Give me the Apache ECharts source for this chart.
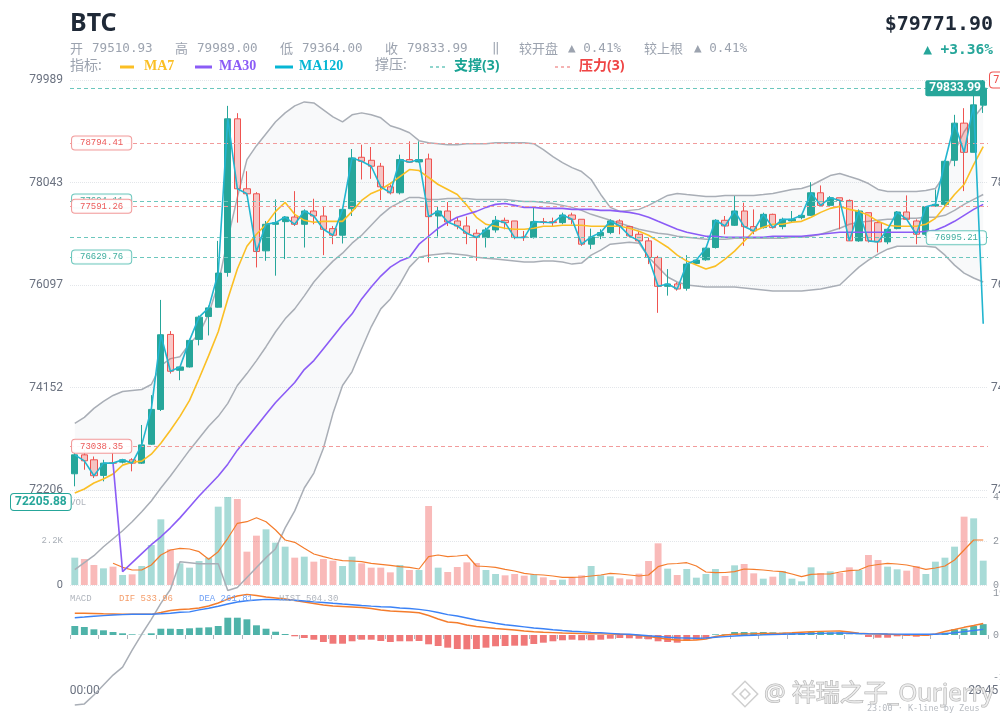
<!DOCTYPE html>
<html><head><meta charset="utf-8">
<script src="https://cdn.jsdelivr.net/npm/echarts@6/dist/echarts.min.js"></script>
<style>html,body{margin:0;padding:0;background:#fff}#c{width:1000px;height:720px}</style>
</head><body><div id="c"></div>
<script>
const categories = [
"00:00","00:15","00:30","00:45","01:00","01:15","01:30","01:45",
"02:00","02:15","02:30","02:45","03:00","03:15","03:30","03:45",
"04:00","04:15","04:30","04:45","05:00","05:15","05:30","05:45",
"06:00","06:15","06:30","06:45","07:00","07:15","07:30","07:45",
"08:00","08:15","08:30","08:45","09:00","09:15","09:30","09:45",
"10:00","10:15","10:30","10:45","11:00","11:15","11:30","11:45",
"12:00","12:15","12:30","12:45","13:00","13:15","13:30","13:45",
"14:00","14:15","14:30","14:45","15:00","15:15","15:30","15:45",
"16:00","16:15","16:30","16:45","17:00","17:15","17:30","17:45",
"18:00","18:15","18:30","18:45","19:00","19:15","19:30","19:45",
"20:00","20:15","20:30","20:45","21:00","21:15","21:30","21:45",
"22:00","22:15","22:30","22:45","23:00","23:15","23:30","23:45"];

// [open, close, low, high]
const candles = [
[72514,72873,72276,72937],[72873,72760,72590,72968],[72779,72477,72433,72842],[72483,72716,72370,72779],[72722,72716,72700,72968],
[72735,72779,72710,72798],[72779,72716,72560,72810],[72716,73062,72700,73440],[73075,73736,73062,74007],[73736,75153,73705,75814],
[75159,74460,74416,75222],[74479,74542,74290,74542],[74542,75046,74530,75078],[75065,75487,74951,75518],[75499,75663,75140,75707],
[75676,76324,75670,76935],[76337,79252,76255,79498],[79252,77924,77281,79359],[77924,77829,77790,78257],[77829,76733,76431,77860],
[76746,77250,76557,77313],[77250,77281,76274,77722],[77300,77388,76589,77407],[77388,77250,77218,77879],[77250,77502,76809,77534],
[77502,77407,77250,77735],[77407,77155,76664,77584],[77168,77042,76872,77218],[77042,77533,76885,77565],[77546,78509,77407,78679],
[78522,78446,78100,78761],[78465,78352,78113,78717],[78352,77961,77710,78415],[77961,77848,77817,78006],[77848,78478,77817,78572],
[78478,78428,78415,78824],[78434,78478,78420,78824],[78490,77395,76526,78591],[77407,77502,77017,77596],[77502,77294,77218,77672],
[77313,77218,77155,77376],[77218,77080,76872,77395],[77080,76998,76557,77155],[76998,77143,76809,77187],[77143,77325,77092,77407],
[77325,77281,77155,77376],[77313,76998,76966,77313],[77011,76998,76935,77124],[76998,77300,76979,77565],[77300,77290,77250,77370],
[77300,77281,77218,77376],[77281,77426,77250,77470],[77426,77345,77250,77470],[77345,76872,76840,77345],[76872,77011,76778,77168],
[77030,77093,76967,77155],[77093,77313,77061,77345],[77313,77219,77061,77345],[77206,77030,76998,77219],[77061,76935,76904,77124],
[76935,76620,76494,76998],[76620,76072,75569,76652],[76072,76117,75896,76400],[76117,76022,75990,76148],[76035,76494,75990,76664],
[76507,76570,76494,76589],[76576,76797,76557,76809],[76809,77326,76790,77345],[77326,77218,77061,77407],[77231,77502,77218,77785],
[77502,77206,76841,77659],[77206,77124,77061,77533],[77187,77439,77168,77470],[77439,77187,77168,77452],[77206,77344,77155,77376],
[77313,77344,77281,77502],[77376,77420,77344,77439],[77420,77848,77407,78050],[77848,77609,77596,77987],[77609,77754,77596,77785],
[77754,77703,77155,77754],[77703,76935,76935,77722],[76935,77502,76916,77533],[77470,76935,76904,77470],[77281,76916,76715,77313],
[76916,77155,76872,77168],[77168,77483,77155,77502],[77483,77344,77344,77798],[77313,77061,76872,77344],[77061,77584,77030,77596],
[77596,77628,77584,77911],[77628,78446,77584,78465],[78465,79170,78352,79328],[79170,78616,77880,79454],[78616,79517,78616,79706],
[79510.93,79833.99,79364,79989]];

const ma7 = [
72149,72225,72338,72414,72508,72678,72735,72754,72886,73094,
73340,73604,73906,74322,74756,75210,75833,76400,76834,77061,
77250,77495,77665,77439,77325,77288,77306,77306,77306,77495,
77703,77835,77911,78024,78156,78289,78270,78138,78005,77911,
77816,77609,77382,77250,77212,77174,77155,77155,77174,77212,
77212,77231,77231,77231,77212,77212,77212,77212,77174,77118,
77042,76929,76815,76664,76551,76475,76400,76456,76589,76740,
76929,77118,77193,77250,77250,77288,77306,77382,77476,77552,
77590,77533,77495,77420,77306,77231,77212,77212,77212,77250,
77363,77590,77816,78005,78383,78723];

const ma30 = [
null,null,null,null,72716,70657,70827,70997,71167,71318,
71488,71677,71885,72093,72282,72471,72697,72962,73188,73415,
73642,73868,74057,74246,74492,74662,74888,75115,75342,75550,
75833,76060,76267,76437,76551,76626,76872,77023,77174,77288,
77382,77439,77495,77571,77628,77646,77609,77571,77571,77552,
77552,77552,77533,77533,77533,77514,77514,77495,77476,77439,
77382,77306,77231,77155,77099,77061,77023,77023,77004,77004,
77004,77004,77004,77023,77023,77023,77023,77042,77061,77080,
77099,77099,77099,77099,77099,77099,77099,77099,77099,77117,
77136,77212,77306,77420,77533,77628];

const ma120 = [
72873,72760,72477,72716,72716,72779,72716,73062,73736,75153,
74460,74542,75046,75487,75663,76324,79252,77924,77829,76733,
77250,77281,77388,77250,77502,77407,77155,77042,77533,78509,
78446,78352,77961,77848,78478,78428,78478,77395,77502,77294,
77218,77080,76998,77143,77325,77281,76998,76998,77300,77290,
77281,77426,77345,76872,77011,77093,77313,77219,77030,76935,
76620,76072,76117,76022,76494,76570,76797,77326,77218,77502,
77206,77124,77439,77187,77344,77344,77420,77848,77609,77754,
77703,76935,77502,76935,76916,77155,77483,77344,77061,77584,
77628,78446,79170,78616,79517,75361];

const bollUpper = [
73472,73585,73755,73887,74001,74076,74095,74114,74208,74567,
74700,74737,74983,75172,75550,76116,76966,77760,78478,78742,
78969,79195,79365,79498,79573,79554,79422,79290,79195,79328,
79365,79328,79271,79120,79063,78988,78837,78799,78780,78761,
78761,78780,78780,78780,78799,78799,78799,78799,78780,78666,
78534,78421,78326,78251,78100,77816,77571,77495,77514,77533,
77609,77703,77798,77835,77816,77798,77779,77779,77798,77798,
77798,77798,77816,77835,77873,77911,77930,77986,78081,78175,
78213,78156,78100,78024,77911,77873,77873,77873,77873,77892,
77930,78194,78629,79007,79271,79500];

const bollMid = [
70695,70827,70959,71129,71281,71432,71602,71791,71998,72244,
72471,72716,72962,73188,73415,73604,73850,74190,74416,74662,
74926,75210,75455,75644,75890,76154,76362,76551,76702,76891,
77042,77231,77420,77571,77665,77760,77760,77722,77722,77741,
77741,77741,77722,77722,77722,77722,77703,77684,77684,77665,
77646,77609,77571,77514,77439,77382,77325,77269,77212,77155,
77118,77080,77061,77023,77004,76985,76966,76966,76966,76985,
76985,76985,76985,76985,76985,77004,77004,77023,77061,77118,
77174,77250,77288,77306,77325,77344,77344,77363,77363,77382,
77382,77420,77514,77628,77722,77816];

const bollLower = [
68126,68145,68315,68504,68693,68844,69165,69467,69750,70053,
70317,70846,70827,70808,70808,70808,70298,70355,70544,70733,
70922,71092,71488,71809,72244,72527,72999,73661,74190,74454,
74888,75304,75644,75833,76116,76437,76626,76664,76683,76702,
76683,76664,76626,76607,76589,76570,76551,76532,76532,76551,
76551,76532,76494,76513,76664,76759,76872,76891,76910,76891,
76626,76437,76249,76154,76097,76079,76060,76060,76060,76060,
76041,76022,76003,75984,75984,75984,75984,76003,76022,76060,
76097,76267,76437,76570,76683,76777,76834,76834,76834,76834,
76815,76664,76475,76324,76230,76154];

const volumes = [
1367,1300,1000,833,917,500,533,950,2000,3283,
1783,1083,867,1200,1367,3917,4400,4300,1667,2467,
2783,2117,1917,1367,1417,1167,1300,1217,950,1417,
1083,867,867,633,1000,750,750,3950,867,650,
900,1133,1100,750,550,483,550,467,533,383,
250,267,383,483,950,483,433,333,283,567,
1200,2083,817,500,800,367,550,800,450,983,
1050,583,317,417,700,317,183,883,600,683,
600,883,750,1500,1250,917,783,717,950,550,
1167,1367,1917,3417,3333,1217];

const volMa = [
null,null,null,null,1085,885,750,750,1000,1500,
1750,1835,1800,1665,1285,1665,2335,3085,3165,3365,
3165,2750,2250,2135,1835,1550,1415,1300,1215,1200,
1165,1085,1035,985,915,885,800,1415,1500,1415,
1450,1500,950,925,885,785,700,585,525,500,
450,385,385,400,450,500,585,550,500,450,
500,915,1050,1075,1115,950,650,615,625,665,
800,785,750,700,665,550,415,535,550,550,
650,715,750,950,1025,1085,1050,1000,900,785,
850,950,1250,1750,2250,2250];

const dif = [
1007,1007,998,984,974,960,960,960,960,1044,
1137,1183,1206,1253,1346,1485,1670,1810,1888,1833,
1763,1717,1670,1601,1531,1462,1392,1346,1322,1299,
1276,1230,1160,1114,1090,1067,1035,905,742,603,
571,464,394,348,302,269,232,186,153,130,
111,93,79,65,60,51,42,32,19,-23,
-70,-130,-195,-232,-246,-232,-185,-70,0,32,
51,60,70,74,79,102,130,153,167,181,
186,139,84,60,46,32,19,5,-5,-14,
46,162,255,357,441,533.96];

const dea = [
803,835,868,900,928,947,960,960,960,984,
1012,1053,1076,1169,1244,1336,1438,1531,1587,1624,
1652,1643,1633,1615,1578,1540,1508,1471,1438,1406,
1373,1341,1313,1299,1253,1230,1192,1132,1044,947,
882,789,696,622,543,478,427,376,325,288,
246,209,176,148,121,102,74,46,32,0,
-37,-70,-107,-130,-139,-148,-139,-102,-74,-46,
-23,-9,5,23,32,46,56,65,74,88,
93,84,70,60,51,46,42,32,32,32,
37,60,107,158,209,261.81];

const hist = [
418,371,264,218,139,79,32,14,79,292,
292,278,311,339,357,418,803,803,728,450,
292,153,46,-60,-139,-218,-325,-404,-404,-292,
-218,-218,-278,-325,-292,-292,-278,-432,-510,-589,
-650,-664,-650,-589,-524,-510,-496,-496,-418,-357,
-292,-246,-218,-246,-246,-218,-172,-139,-153,-172,
-200,-292,-325,-357,-278,-218,-139,32,32,139,
139,125,139,125,107,93,93,139,139,125,
125,14,14,-93,-125,-125,-60,-46,-79,-46,
14,107,264,292,418,504.30];

const supportLevels = [77694.11, 76995.21, 76629.76];
const resistanceLevels = [78794.41, 77591.26, 73038.35];
const lastClose = 79833.99;
const priceMin = 72205.88, priceMax = 79989, priceStep = 1945.78;
const volMax = 4400, volStep = 2200;
const macdMax = 1950;

const UP = '#26a69a', DOWN = '#ef5350';
const SUP = '#6cc7bd', RES = '#f29b9b';
const sans = "'Noto Sans','Noto Sans CJK SC',sans-serif";
const robo = "Roboto,'Noto Sans',sans-serif";
const mono = "'DejaVu Sans Mono','Noto Sans CJK SC',monospace";
const cmono = "'Liberation Mono','DejaVu Sans Mono',monospace";
const serif = "'Liberation Serif','DejaVu Serif',serif";

const chart = echarts.init(document.getElementById('c'), null, {renderer:'canvas'});

function T(x, y, text, font, fill, align, extra) {
  return {type:'text', x:x, y:y, silent:true, z:100,
    style: Object.assign({text:text, font:font, fill:fill, align:align||'left', verticalAlign:'middle',
      textAlign:align||'left', textVerticalAlign:'middle'}, extra||{})};
}
function L(x1,y1,x2,y2,color,w,dash){
  return {type:'line', silent:true, z:100, shape:{x1,y1,x2,y2}, style:{stroke:color, lineWidth:w, lineDash:dash||null}};
}

const gray = '#9ca3af';
const graphics = [
  T(70, 24, 'BTC', 'bold 25px ' + sans, '#1f2937'),
  T(993, 25, '$79771.90', 'bold 20px ' + mono, '#1f2937', 'right'),
  T(70, 49, '开', '13px ' + sans, gray), T(92, 49, '79510.93', '12.6px ' + mono, gray),
  T(175, 49, '高', '13px ' + sans, gray), T(197, 49, '79989.00', '12.6px ' + mono, gray),
  T(280, 49, '低', '13px ' + sans, gray), T(302, 49, '79364.00', '12.6px ' + mono, gray),
  T(385, 49, '收', '13px ' + sans, gray), T(407, 49, '79833.99', '12.6px ' + mono, gray),
  T(492, 49, '‖', '12.6px ' + mono, gray),
  T(519, 49, '较开盘', '13px ' + sans, gray), T(568, 49, '▲ 0.41%', '12.6px ' + mono, gray),
  T(644, 49, '较上根', '13px ' + sans, gray), T(694, 49, '▲ 0.41%', '12.6px ' + mono, gray),
  T(993, 50, '▲ +3.36%', 'bold 14.5px ' + mono, UP, 'right'),
  T(70, 66, '指标:', '14px ' + sans, gray),
  L(120, 67, 134, 67, '#fbbf24', 3), T(144, 66, 'MA7', 'bold 14px ' + serif, '#fbbf24'),
  L(195, 67, 212, 67, '#8b5cf6', 3), T(219, 66, 'MA30', 'bold 14px ' + serif, '#8b5cf6'),
  L(275, 67, 293, 67, '#06b6d4', 3), T(299, 66, 'MA120', 'bold 14px ' + serif, '#06b6d4'),
  T(375, 65, '撑压:', '14px ' + sans, gray),
  L(430, 67, 447, 67, SUP, 1.5, [3,3]), T(454, 66, '支撑(3)', 'bold 14px ' + sans, '#1aa394'),
  L(555, 67, 572, 67, RES, 1.5, [3,3]), T(579, 66, '压力(3)', 'bold 14px ' + sans, '#ef4444'),
  T(70, 503, 'VOL', '9px ' + cmono, '#b0b5bd'),
  T(70, 599, 'MACD', '9px ' + cmono, '#b0b5bd'),
  T(119, 599, 'DIF 533.96', '9px ' + cmono, '#f59e6b'),
  T(199, 599, 'DEA 261.81', '9px ' + cmono, '#6fa0f5'),
  T(279, 599, 'HIST 504.30', '9px ' + cmono, '#b0b5bd'),
  T(11, 502, '72205.88', 'bold 12px ' + robo, UP, 'left',
    {backgroundColor:'#fff', borderColor:UP, borderWidth:1, borderRadius:3, padding:[2,4]}),
  T(990, 80, '79989.00', '11px ' + mono, DOWN, 'left',
    {backgroundColor:'#fff', borderColor:DOWN, borderWidth:1, borderRadius:3, padding:[2,3]}),
  {type:'group', x:745, y:694, z:110, silent:true, children:[
    {type:'rect', rotation:Math.PI/4, shape:{x:-9,y:-9,width:18,height:18}, style:{fill:'rgba(255,255,255,0.4)', stroke:'#cfcfcf', lineWidth:1.5}},
    {type:'rect', rotation:Math.PI/4, shape:{x:-3.5,y:-3.5,width:7,height:7}, style:{fill:'none', stroke:'#cfcfcf', lineWidth:1.5}}
  ]},
  T(764, 694, '@ 祥瑞之子_Ourjerry', '24px ' + sans, 'rgba(235,235,235,0.75)', 'left',
    {stroke:'rgba(150,150,150,0.75)', lineWidth:1}),
  T(867, 709, '23:00 · K-line by Zeus', '8.5px ' + mono, '#b8bcc2')
];

const volData = volumes.map((v, i) => ({value: v, itemStyle: {color: candles[i][1] >= candles[i][0] ? 'rgba(38,166,154,0.4)' : 'rgba(239,83,80,0.4)'}}));
const histData = hist.map(v => ({value: v, itemStyle: {color: v >= 0 ? '#4fb3a9' : '#f07878'}}));
const bandDiff = bollUpper.map((u, i) => u - bollLower[i]);

function lvl(v, color, pos) {
  return {yAxis: v, lineStyle: {color: color, type: [4,3], width: 1},
    label: {show: true, position: pos, distance: 2, formatter: v.toFixed(2), color: color === SUP ? '#3fae9f' : '#ec5b5b',
      fontFamily: cmono, fontSize: 9, padding: [2,8], backgroundColor: 'rgba(255,255,255,0.92)',
      borderColor: color, borderWidth: 1, borderRadius: 3}};
}

const markData = [
  {yAxis: lastClose, lineStyle: {color: SUP, type: [4,3], width: 1},
   label: {show: true, position: 'insideEnd', distance: 3, formatter: lastClose.toFixed(2), color: '#fff',
     fontWeight: 'bold', fontFamily: robo, fontSize: 12, padding: [2,4], backgroundColor: UP, borderRadius: 2}},
  lvl(resistanceLevels[0], RES, 'insideStart'),
  lvl(supportLevels[0], SUP, 'insideStart'),
  lvl(resistanceLevels[1], RES, 'insideStart'),
  lvl(supportLevels[1], SUP, 'insideEnd'),
  lvl(supportLevels[2], SUP, 'insideStart'),
  lvl(resistanceLevels[2], RES, 'insideStart')
];

const hiddenX = (gi) => ({type: 'category', gridIndex: gi, data: categories, boundaryGap: true,
  axisLine: {show: false}, axisTick: {show: false}, axisLabel: {show: false}, splitLine: {show: false}});

const priceLabel = {formatter: v => String(Math.round(v)), color: '#6b7280', fontSize: 12, fontFamily: robo};
const volFmt = v => v === 0 ? '{z|0}' : (v / 1000).toFixed(1) + 'K';

const option = {
  animation: false,
  backgroundColor: '#fff',
  graphic: graphics,
  grid: [
    {left: 70, right: 12, top: 80, height: 410, outerBoundsMode: 'none', containLabel: false},
    {left: 70, right: 12, top: 497, height: 88, outerBoundsMode: 'none', containLabel: false},
    {left: 70, right: 12, top: 593, height: 84, outerBoundsMode: 'none', containLabel: false}
  ],
  xAxis: [hiddenX(0), hiddenX(1), {
    type: 'category', gridIndex: 2, data: categories, boundaryGap: true, offset: 2,
    axisLine: {show: false},
    axisTick: {show: true, interval: 2, length: 4, lineStyle: {color: '#b0b5bd'}},
    axisLabel: {interval: (i) => i === 0 || i === categories.length - 1, color: '#6b7280', fontSize: 12,
      fontFamily: robo, margin: 6,
      formatter: (v, i) => i === 0 ? '{a|' + v + '}' : v,
      rich: {a: {padding: [0, 0, 0, 20], color: '#6b7280', fontSize: 12, fontFamily: robo}}},
    splitLine: {show: false}
  }],
  yAxis: [
    {type: 'value', gridIndex: 0, position: 'left', min: priceMin, max: priceMax, interval: priceStep,
     axisLine: {show: false}, axisTick: {show: false}, axisLabel: Object.assign({margin: 7}, priceLabel),
     splitLine: {show: true, lineStyle: {type: 'dotted', color: '#e3e6ea'}}},
    {type: 'value', gridIndex: 0, position: 'right', min: priceMin, max: priceMax, interval: priceStep,
     axisLine: {show: false}, axisTick: {show: false}, axisLabel: Object.assign({margin: 3}, priceLabel),
     splitLine: {show: false}},
    {type: 'value', gridIndex: 1, position: 'left', min: 0, max: volMax, interval: volStep,
     axisLine: {show: false}, axisTick: {show: false},
     axisLabel: {formatter: volFmt, color: '#aab0b8', fontSize: 9, fontFamily: cmono, margin: 7,
       rich: {z: {color: '#6b7280', fontSize: 11, fontFamily: robo}}},
     splitLine: {show: true, lineStyle: {type: 'dotted', color: '#e3e6ea'}}},
    {type: 'value', gridIndex: 1, position: 'right', min: 0, max: volMax, interval: volStep,
     axisLine: {show: false}, axisTick: {show: false},
     axisLabel: {formatter: v => v === 0 ? '0' : (v / 1000).toFixed(1) + 'K', color: '#8f959d', fontSize: 10, fontFamily: cmono, margin: 5},
     splitLine: {show: false}},
    {type: 'value', gridIndex: 2, position: 'right', min: -macdMax, max: macdMax, interval: macdMax,
     axisLine: {show: false}, axisTick: {show: false},
     axisLabel: {formatter: v => String(v), color: '#8f959d', fontSize: 10, fontFamily: cmono, margin: 5},
     splitLine: {show: false}}
  ],
  series: [
    {name: 'bollBase', type: 'line', xAxisIndex: 0, yAxisIndex: 0, data: bollLower, stack: 'boll',
     symbol: 'none', silent: true, lineStyle: {opacity: 0}, z: 1},
    {name: 'bollBand', type: 'line', xAxisIndex: 0, yAxisIndex: 0, data: bandDiff, stack: 'boll',
     symbol: 'none', silent: true, lineStyle: {opacity: 0}, areaStyle: {color: 'rgba(148,160,180,0.09)'}, z: 1},
    {name: 'UB', type: 'line', xAxisIndex: 0, yAxisIndex: 0, data: bollUpper, symbol: 'none', clip: false,
     silent: true, lineStyle: {color: '#a9aeb6', width: 1.5}, z: 2},
    {name: 'MB', type: 'line', xAxisIndex: 0, yAxisIndex: 0, data: bollMid, symbol: 'none', clip: false,
     silent: true, lineStyle: {color: '#a9aeb6', width: 1.5}, z: 2},
    {name: 'LB', type: 'line', xAxisIndex: 0, yAxisIndex: 0, data: bollLower, symbol: 'none', clip: false,
     silent: true, lineStyle: {color: '#a9aeb6', width: 1.5}, z: 2},
    {name: 'K', type: 'candlestick', xAxisIndex: 0, yAxisIndex: 0, data: candles, barWidth: '70%', z: 3,
     itemStyle: {color: UP, color0: 'rgba(239,83,80,0.32)', borderColor: UP, borderColor0: DOWN, borderWidth: 1},
     markLine: {silent: true, symbol: ['none', 'none'], animation: false, data: markData}},
    {name: 'MA7', type: 'line', xAxisIndex: 0, yAxisIndex: 0, data: ma7, symbol: 'none', clip: false,
     lineStyle: {color: '#fbbf24', width: 1.6}, z: 4},
    {name: 'MA30', type: 'line', xAxisIndex: 0, yAxisIndex: 0, data: ma30, symbol: 'none', clip: false,
     lineStyle: {color: '#8b5cf6', width: 1.6}, z: 4},
    {name: 'MA120', type: 'line', xAxisIndex: 0, yAxisIndex: 0, data: ma120, symbol: 'none', clip: false,
     lineStyle: {color: '#22b5cf', width: 1.6}, z: 5},
    {name: 'VOL', type: 'bar', xAxisIndex: 1, yAxisIndex: 2, data: volData, barWidth: '72%', z: 2},
    {name: 'VOLMA', type: 'line', xAxisIndex: 1, yAxisIndex: 2, data: volMa, symbol: 'none',
     lineStyle: {color: '#f47c2c', width: 1.2}, z: 3},
    {name: 'HIST', type: 'bar', xAxisIndex: 2, yAxisIndex: 4, data: histData, barWidth: '72%', z: 2},
    {name: 'DIF', type: 'line', xAxisIndex: 2, yAxisIndex: 4, data: dif, symbol: 'none',
     lineStyle: {color: '#f47c2c', width: 1.4}, z: 3},
    {name: 'DEA', type: 'line', xAxisIndex: 2, yAxisIndex: 4, data: dea, symbol: 'none',
     lineStyle: {color: '#3b82f6', width: 1.4}, z: 3}
  ]
};
chart.setOption(option);
</script>
</body></html>
